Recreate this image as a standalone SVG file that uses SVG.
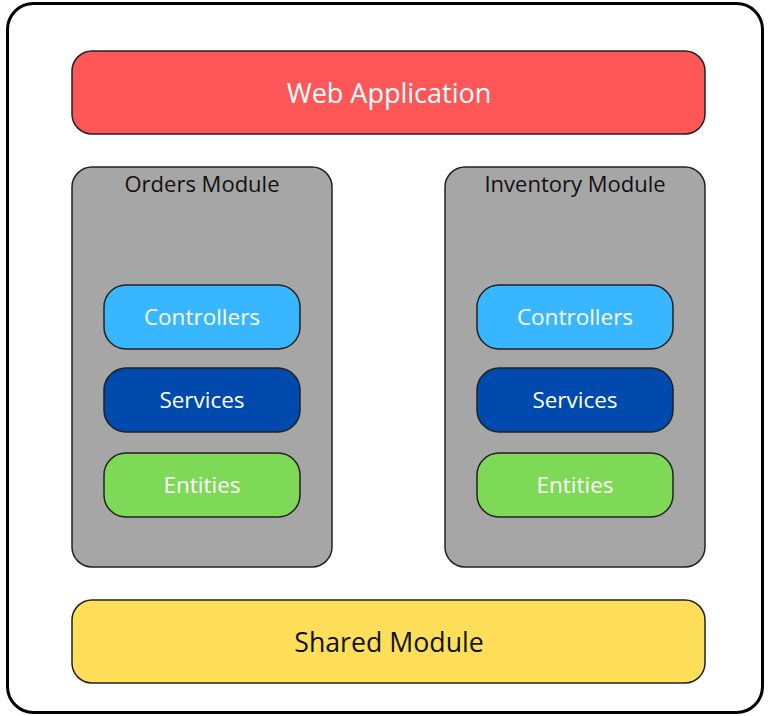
<svg xmlns="http://www.w3.org/2000/svg" width="768" height="716" viewBox="0 0 768 716">
<style>
.box{stroke:#222;stroke-width:1.5}
.t{font-family:"Open Sans","Noto Sans",sans-serif;text-anchor:middle;dominant-baseline:central}
.w{fill:#fff;font-size:22.5px}
.k{fill:#111}
</style>
<rect x="7.5" y="3.5" width="755" height="709" rx="26" fill="#fff" stroke="#000" stroke-width="3"/>
<g id="web-app">
<rect class="box" x="72" y="51" width="633" height="83" rx="20" fill="#ff5757"/>
<text class="t" x="389" y="92" fill="#fff" font-size="27">Web Application</text>
</g>
<g id="orders-module">
<rect class="box" x="72" y="167" width="260" height="400" rx="20" fill="#a6a6a6"/>
<text class="t k" x="202" y="183" font-size="22">Orders Module</text>
</g>
<g id="orders-controllers">
<rect class="box" x="104" y="285" width="196" height="64" rx="22" fill="#38b6ff"/>
<text class="t w" x="202" y="316">Controllers</text>
</g>
<g id="orders-services">
<rect class="box" x="104" y="368" width="196" height="64" rx="22" fill="#004aad"/>
<text class="t w" x="202" y="399">Services</text>
</g>
<g id="orders-entities">
<rect class="box" x="104" y="453" width="196" height="64" rx="22" fill="#7ed957"/>
<text class="t w" x="202" y="484">Entities</text>
</g>
<g id="inventory-module">
<rect class="box" x="445" y="167" width="260" height="400" rx="20" fill="#a6a6a6"/>
<text class="t k" x="575" y="183" font-size="22">Inventory Module</text>
</g>
<g id="inventory-controllers">
<rect class="box" x="477" y="285" width="196" height="64" rx="22" fill="#38b6ff"/>
<text class="t w" x="575" y="316">Controllers</text>
</g>
<g id="inventory-services">
<rect class="box" x="477" y="368" width="196" height="64" rx="22" fill="#004aad"/>
<text class="t w" x="575" y="399">Services</text>
</g>
<g id="inventory-entities">
<rect class="box" x="477" y="453" width="196" height="64" rx="22" fill="#7ed957"/>
<text class="t w" x="575" y="484">Entities</text>
</g>
<g id="shared-module">
<rect class="box" x="72" y="600" width="633" height="83" rx="20" fill="#ffde59"/>
<text class="t k" x="389" y="641" font-size="26.7">Shared Module</text>
</g>
<g id="connectors"></g>
</svg>
